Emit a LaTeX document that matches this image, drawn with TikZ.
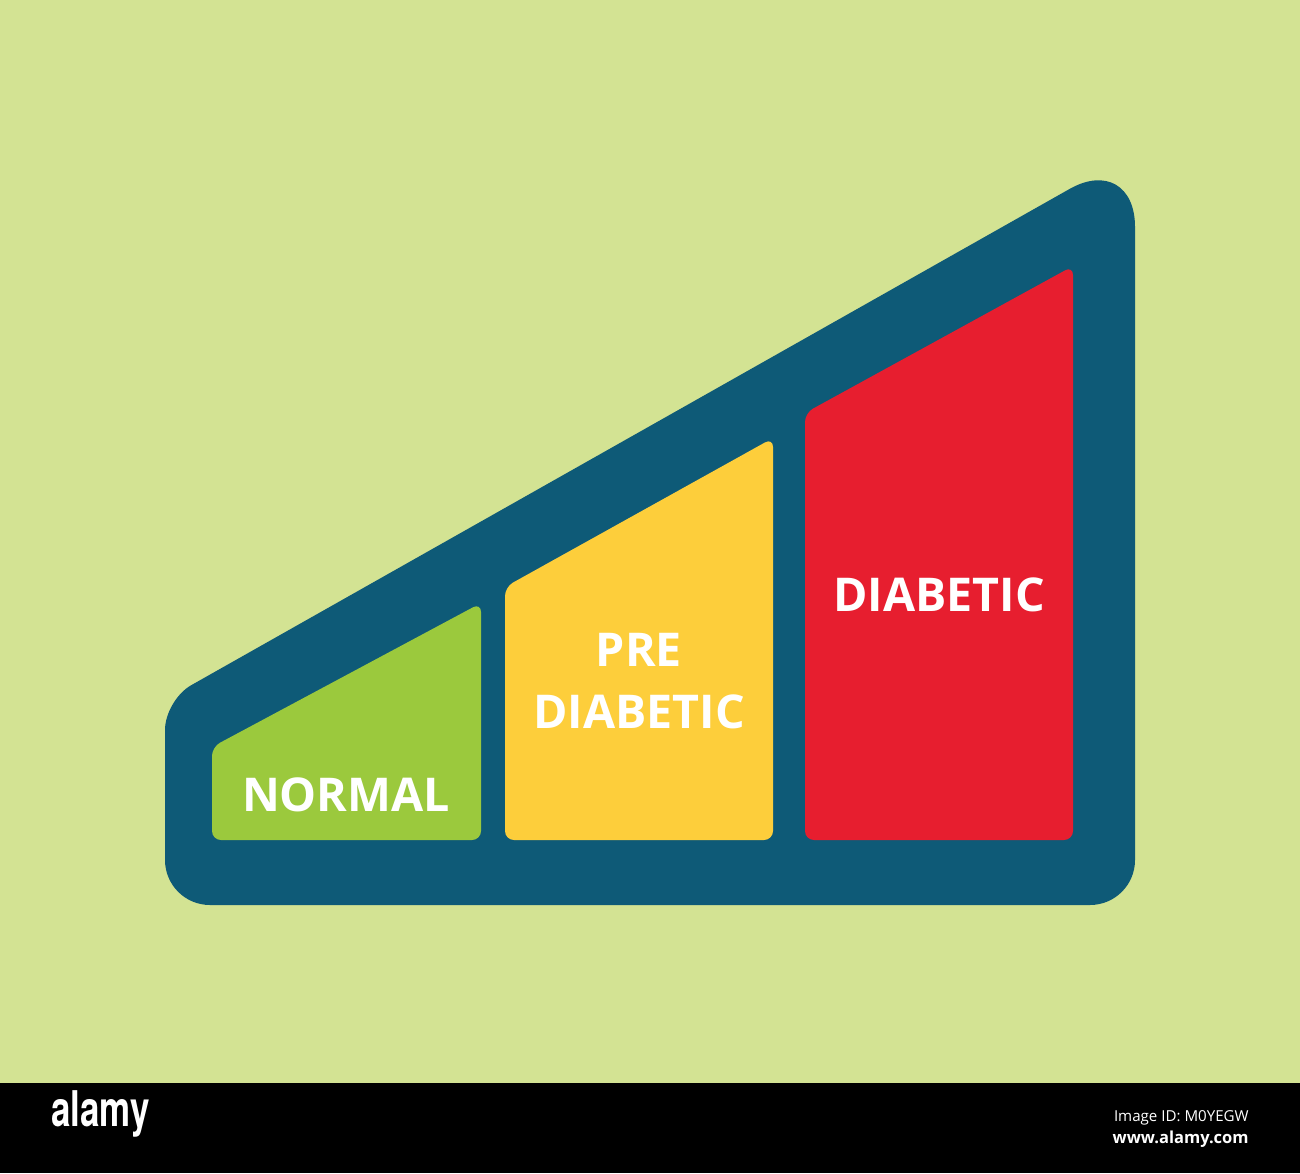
\documentclass[tikz,border=0pt]{standalone}
\usepackage{fontspec}
\setmainfont{Open Sans}
\newfontfamily\logofont{TeX Gyre Heros}
\usetikzlibrary{positioning}
\definecolor{bgGreen}{HTML}{D3E393}
\definecolor{frameBlue}{HTML}{0E5A77}
\definecolor{normalGreen}{HTML}{9BC93D}
\definecolor{preYellow}{HTML}{FDCE3B}
\definecolor{diabRed}{HTML}{E71E2F}

\begin{document}
\begin{tikzpicture}[x=0.02cm,y=-0.02cm,
    barText/.style={text=white,inner sep=0pt,align=center,
      font=\fontsize{26.5}{35.3}\selectfont\bfseries}]

      \useasboundingbox (0,0) rectangle (1300,1173);

      % draw the background
      \fill[bgGreen] (0,0) rectangle (1300,1083);
      \fill[black] (0,1083) rectangle (1300,1173);

      % draw the frame
      \fill[frameBlue] (165,800)
        [rounded corners=0.6cm] -- (165,700)
        [rounded corners=1.5cm] -- (1135,152)
        [rounded corners=0.9cm] -- (1135,905)
        [rounded corners=0.9cm] -- (165,905)
        [sharp corners] -- (165,800) -- cycle;

      % draw the bars
      \def\bars{212/481/747/603/normalGreen,
        505/773/587/438/preYellow,
        805/1073/413/266/diabRed}
      \foreach \xl/\xr/\yl/\yr/\col [count=\ni] in \bars
      {
        \pgfmathsetmacro\xm{(\xl+\xr)/2}
        \fill[\col, rounded corners=0.18cm] (\xm,840) -- (\xl,840) -- (\xl,\yl) -- (\xr,\yr) -- (\xr,840) -- (\xm,840);
      }

      % label the bars
      \node[barText] (normal) at (346,795) {NORMAL};
      \node[barText] (prediab) at (639,681) {PRE\\DIABETIC};
      \node[barText] (diab) at (939,595) {DIABETIC};

      % the bottom band
      \node[text=white,inner sep=0pt,anchor=south west,
        font=\logofont\bfseries\fontsize{28}{28}\selectfont] (logo) at (51,1138) {\scalebox{0.71}[1]{alamy}};
      \node[text=white,inner sep=0pt,anchor=base east,
        font=\fontsize{8.6}{10}\selectfont] (imgid) at (1249,1121) {Image ID: M0YEGW};
      \node[text=white,inner sep=0pt,anchor=base east,
        font=\fontsize{9.4}{10}\selectfont\bfseries] (site) at (1249,1143) {www.alamy.com};

    \end{tikzpicture}
\end{document}
